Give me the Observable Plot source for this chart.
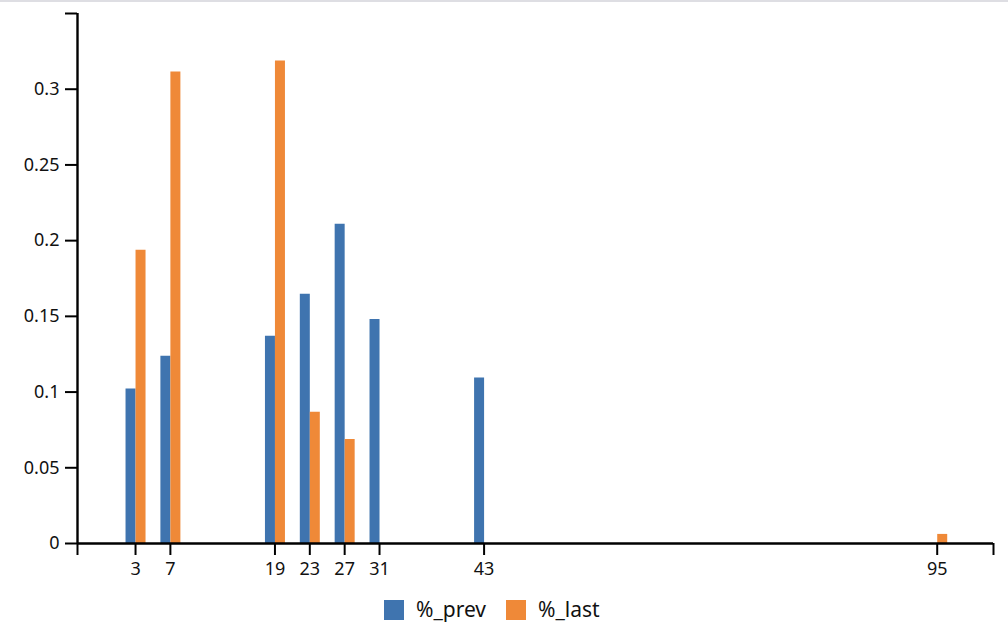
<!DOCTYPE html>
<html>
<head>
<meta charset="utf-8">
<script src="https://cdn.jsdelivr.net/npm/d3@7"></script>
<script src="https://cdn.jsdelivr.net/npm/@observablehq/plot@0.6"></script>
<style>
  html, body { margin: 0; padding: 0; background: #fff; }
  body { width: 1008px; height: 640px; position: relative; overflow: hidden; font-family: "Noto Sans", sans-serif; }
  #topbar { position: absolute; left: 0; top: 0; width: 1008px; height: 2px; background: #dedee3; }
  #chart { position: absolute; left: 0; top: 0; }
  #legend { position: absolute; left: 384px; top: 600px; display: flex; align-items: center; font-size: 21px; color: #111; }
  .item { display: flex; align-items: center; margin-right: 20px; }
  .sw { width: 20px; height: 20px; margin-right: 12px; }
  .lab { line-height: 20px; position: relative; top: -1px; }
</style>
</head>
<body>
<div id="chart"></div>
<div id="topbar"></div>
<div id="legend"></div>
<script>
const categories = [3, 7, 19, 23, 27, 31, 43, 95];
const prevValues = [0.102, 0.1236, 0.1368, 0.1646, 0.2108, 0.148, 0.1093, 0];
const lastValues = [0.1937, 0.3113, 0.3186, 0.0866, 0.0687, 0, 0, 0.006];
const seriesNames = ["%_prev", "%_last"];
const seriesColors = ["#3f74af", "#ef8938"];
const yTicks = [0, 0.05, 0.1, 0.15, 0.2, 0.25, 0.3];

const xDomain = [-3.66, 101.46];
const yDomain = [0, 0.35];

const rows = [];
categories.forEach((c, i) => {
  rows.push({x: c, value: prevValues[i], series: seriesNames[0]});
  rows.push({x: c, value: lastValues[i], series: seriesNames[1]});
});

const chart = Plot.plot({
  width: 1008,
  height: 585,
  marginLeft: 77,
  marginRight: 15,
  marginTop: 13,
  marginBottom: 42,
  style: {fontFamily: "Noto Sans, sans-serif", fontSize: "18px", color: "#111", background: "transparent"},
  x: {type: "linear", domain: xDomain},
  y: {domain: yDomain},
  marks: [
    Plot.ruleX(rows.filter(d => d.series === seriesNames[0]), {
      x: "x", y1: 0, y2: "value", stroke: seriesColors[0], strokeWidth: 10, dx: -5
    }),
    Plot.ruleX(rows.filter(d => d.series === seriesNames[1]), {
      x: "x", y1: 0, y2: "value", stroke: seriesColors[1], strokeWidth: 10, dx: 5
    }),
    Plot.axisX({
      ticks: [xDomain[0], ...categories, xDomain[1]],
      tickFormat: d => categories.includes(d) ? String(d) : "",
      tickSize: 12, tickPadding: 7, strokeWidth: 2, stroke: "#000", label: null, fontSize: 18
    }),
    Plot.axisY({
      ticks: [...yTicks, yDomain[1]],
      tickFormat: d => yTicks.includes(d) ? String(+d.toFixed(2)) : "",
      tickSize: 12, tickPadding: 6, strokeWidth: 2, stroke: "#000", label: null, fontSize: 18
    }),
    Plot.ruleY([0], {stroke: "#000", strokeWidth: 2.4}),
    Plot.ruleX([xDomain[0]], {stroke: "#000", strokeWidth: 2.4})
  ]
});
document.getElementById("chart").appendChild(chart);

const legend = document.getElementById("legend");
seriesNames.forEach((name, i) => {
  const item = document.createElement("div");
  item.className = "item";
  const sw = document.createElement("div");
  sw.className = "sw";
  sw.style.background = seriesColors[i];
  const lab = document.createElement("span");
  lab.className = "lab";
  lab.textContent = name;
  item.appendChild(sw);
  item.appendChild(lab);
  legend.appendChild(item);
});
</script>
</body>
</html>
